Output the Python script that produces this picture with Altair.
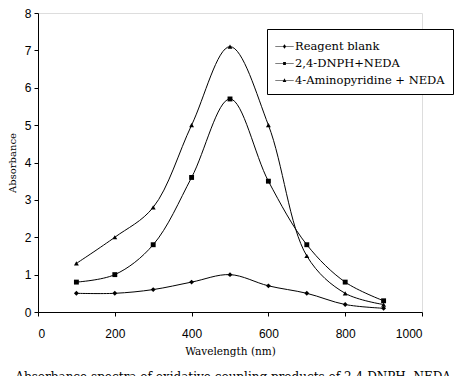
import altair as alt
import pandas as pd

wavelength = [100, 200, 300, 400, 500, 600, 700, 800, 900]
blank = [0.5, 0.5, 0.6, 0.8, 1.0, 0.7, 0.5, 0.2, 0.1]
dnph = [0.8, 1.0, 1.8, 3.6, 5.7, 3.5, 1.8, 0.8, 0.3]
amino = [1.3, 2.0, 2.8, 5.0, 7.1, 5.0, 1.5, 0.5, 0.2]
series_names = ["Reagent blank", "2,4-DNPH+NEDA", "4-Aminopyridine + NEDA"]
x_ticks = [0, 200, 400, 600, 800, 1000]
y_ticks = [0, 1, 2, 3, 4, 5, 6, 7, 8]

rows = []
for name, vals in zip(series_names, [blank, dnph, amino]):
    for w, v in zip(wavelength, vals):
        rows.append({"Wavelength": w, "Absorbance": v, "Series": name, "Key": name})
df = pd.DataFrame(rows)

bar = "M-1,-0.035H1V0.035H-1Z"
diamond = bar + "M0,-0.24L0.17,0L0,0.24L-0.17,0Z"
square = bar + "M-0.15,-0.15H0.15V0.15H-0.15Z"
triangle = bar + "M0,-0.24L0.2,0.16H-0.2Z"

x = alt.X("Wavelength:Q", scale=alt.Scale(domain=[0, 1000], nice=False),
          axis=alt.Axis(values=x_ticks, format="d", title="Wavelength (nm)", grid=False,
                        domainColor="black", tickColor="black", tickSize=4,
                        labelFont="Liberation Sans", labelFontSize=12, labelColor="black",
                        labelPadding=12, titleFont="DejaVu Serif", titleFontSize=10.5,
                        titleFontWeight="normal", titleColor="black", titlePadding=7))
y = alt.Y("Absorbance:Q", scale=alt.Scale(domain=[0, 8], nice=False),
          axis=alt.Axis(values=y_ticks, title="Absorbance", grid=False,
                        domainColor="black", tickColor="black", tickSize=4,
                        labelFont="Liberation Sans", labelFontSize=12, labelColor="black",
                        labelPadding=3, titleFont="DejaVu Serif", titleFontSize=10,
                        titleFontWeight="normal", titleColor="black", titlePadding=7))

lines = alt.Chart(df).mark_line(interpolate="catmull-rom", strokeWidth=1, color="black").encode(
    x=x, y=y, detail="Series:N")

points = alt.Chart(df).mark_point(filled=True, size=24, opacity=1, color="black").encode(
    x=x, y=y,
    shape=alt.Shape("Series:N",
                    scale=alt.Scale(domain=series_names, range=["diamond", "square", "triangle-up"]),
                    legend=None),
)

legend_layer = alt.Chart(df).mark_point(filled=True, size=24, opacity=0, color="black").encode(
    x=x, y=y,
    shape=alt.Shape("Key:N",
                    scale=alt.Scale(domain=series_names, range=[diamond, square, triangle]),
                    legend=alt.Legend(title=None, orient="none", legendX=229, legendY=16,
                                      strokeColor="black", padding=8, fillColor="white",
                                      labelFont="DejaVu Serif", labelFontSize=11.5,
                                      labelColor="black", symbolSize=340, rowPadding=2,
                                      labelOffset=1, symbolOpacity=1,
                                      symbolFillColor="black", symbolStrokeWidth=0)),
)

chart = alt.layer(lines, points, legend_layer).resolve_scale(shape="independent").properties(
    width=384, height=299,
    title=alt.TitleParams("Absorbance spectra of oxidative coupling products of 2,4-DNPH, NEDA",
                          orient="bottom", anchor="start", font="DejaVu Serif",
                          fontSize=12, fontWeight="normal", color="black", offset=15, dx=8),
    padding={"left": 30, "top": 5, "right": 44, "bottom": 64},
    autosize=alt.AutoSizeParams(type="none"),
).configure_view(stroke=None).configure(background="white")

chart.save("out.html", embed_options={"renderer": "svg", "actions": False})
